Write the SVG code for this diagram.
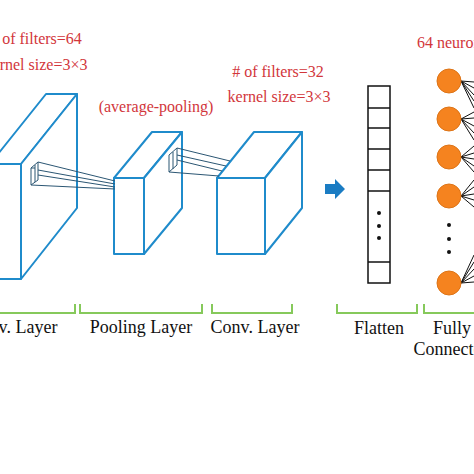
<svg xmlns="http://www.w3.org/2000/svg" width="474" height="474" viewBox="0 0 474 474">
<style>
.cube{fill:#fff;stroke:#1f8bcb;stroke-width:2;stroke-linejoin:round}
.kern{fill:none;stroke:#2b5673;stroke-width:1}
.red{font-family:"Liberation Serif",serif;font-size:16px;fill:#d2363b}
.lbl{font-family:"Liberation Serif",serif;font-size:18px;fill:#111}
.br{fill:none;stroke:#86c95b;stroke-width:2}
.cell{fill:#fff;stroke:#111;stroke-width:1.5}
.neu{fill:#f5831f;stroke:#dd7417;stroke-width:1}
.fan{stroke:#111;stroke-width:1}
.dot{fill:#111}
</style>
<rect width="474" height="474" fill="#fff"/>
<g id="texts">
<text class="red" x="36" y="44" text-anchor="middle"># of filters=64</text>
<text class="red" x="36" y="70" text-anchor="middle">kernel size=3×3</text>
<text class="red" x="156" y="112" text-anchor="middle">(average-pooling)</text>
<text class="red" x="278" y="77" text-anchor="middle"># of filters=32</text>
<text class="red" x="279" y="102" text-anchor="middle">kernel size=3×3</text>
<text class="red" x="417" y="48">64 neurons</text>
</g>
<g id="conv1">
<polygon class="cube" points="-10,164 46,94 77,94 21,164"/>
<polygon class="cube" points="21,164 77,94 77,208 21,279"/>
<rect class="cube" x="-10" y="164" width="31" height="115"/>
</g>
<g id="pool">
<polygon class="cube" points="114,178 152,132 182,132 144,178"/>
<polygon class="cube" points="144,178 182,132 182,208 144,254"/>
<rect class="cube" x="114" y="178" width="30" height="76"/>
</g>
<g id="conv2">
<polygon class="cube" points="217,178 254,132 302,132 265,178"/>
<polygon class="cube" points="265,178 302,132 302,208 265,254"/>
<rect class="cube" x="217" y="178" width="48" height="76"/>
</g>
<g id="connectors">
<polygon class="kern" points="31,168 38,162 38,180 31,185"/>
<line class="kern" x1="35" y1="165" x2="35" y2="182"/>
<line class="kern" x1="31" y1="168" x2="35" y2="168"/>
<line class="kern" x1="38" y1="162" x2="115" y2="181"/>
<line class="kern" x1="38" y1="170" x2="115" y2="184"/>
<line class="kern" x1="38" y1="175" x2="115" y2="187"/>
<line class="kern" x1="31" y1="185" x2="115" y2="189"/>
<polygon class="kern" points="169,155 177,148 177,165 169,172"/>
<line class="kern" x1="173" y1="152" x2="173" y2="169"/>
<line class="kern" x1="177" y1="148" x2="230" y2="161"/>
<line class="kern" x1="177" y1="155" x2="226" y2="166"/>
<line class="kern" x1="177" y1="160" x2="222" y2="171"/>
<line class="kern" x1="169" y1="172" x2="219" y2="176"/>
<polygon points="325,184 335,184 335,179 345,189 335,199 335,194 325,194" fill="#1a7cc3"/>
<g class="fan">
<line x1="461" y1="81" x2="474" y2="82"/><line x1="461" y1="81" x2="474" y2="88"/><line x1="461" y1="81" x2="474" y2="95"/><line x1="461" y1="81" x2="474" y2="101"/><line x1="461" y1="81" x2="474" y2="108"/>
<line x1="461" y1="119" x2="474" y2="112"/><line x1="461" y1="119" x2="474" y2="118"/><line x1="461" y1="119" x2="474" y2="126"/><line x1="461" y1="119" x2="474" y2="133"/><line x1="461" y1="119" x2="474" y2="140"/>
<line x1="461" y1="157" x2="474" y2="146"/><line x1="461" y1="157" x2="474" y2="153"/><line x1="461" y1="157" x2="474" y2="159"/><line x1="461" y1="157" x2="474" y2="166"/><line x1="461" y1="157" x2="474" y2="172"/>
<line x1="461" y1="196" x2="474" y2="180"/><line x1="461" y1="196" x2="474" y2="187"/><line x1="461" y1="196" x2="474" y2="194"/><line x1="461" y1="196" x2="474" y2="200"/><line x1="461" y1="196" x2="474" y2="207"/>
<line x1="461" y1="283" x2="474" y2="255"/><line x1="461" y1="283" x2="474" y2="262"/><line x1="461" y1="283" x2="474" y2="269"/><line x1="461" y1="283" x2="474" y2="276"/><line x1="461" y1="283" x2="474" y2="282"/>
</g>
</g>
<g id="flatten">
<rect class="cell" x="368" y="86" width="22" height="197"/>
<line class="cell" x1="368" y1="108" x2="390" y2="108"/>
<line class="cell" x1="368" y1="128" x2="390" y2="128"/>
<line class="cell" x1="368" y1="149" x2="390" y2="149"/>
<line class="cell" x1="368" y1="170" x2="390" y2="170"/>
<line class="cell" x1="368" y1="191" x2="390" y2="191"/>
<line class="cell" x1="368" y1="262" x2="390" y2="262"/>
<circle class="dot" cx="379" cy="213" r="2"/>
<circle class="dot" cx="379" cy="226" r="2"/>
<circle class="dot" cx="379" cy="238" r="2"/>
</g>
<g id="dense">
<circle class="neu" cx="449" cy="81" r="12"/>
<circle class="neu" cx="449" cy="119" r="12"/>
<circle class="neu" cx="449" cy="157" r="12"/>
<circle class="neu" cx="449" cy="196" r="12"/>
<circle class="neu" cx="449" cy="283" r="12"/>
<circle class="dot" cx="449" cy="225" r="2"/>
<circle class="dot" cx="449" cy="239" r="2"/>
<circle class="dot" cx="449" cy="252" r="2"/>
</g>
<g id="brackets">
<polyline class="br" points="-5,313 75,313 75,304"/>
<polyline class="br" points="80,304 80,313 202,313 202,304"/>
<polyline class="br" points="212,304 212,313 292,313 292,304"/>
<polyline class="br" points="337,304 337,313 417,313 417,304"/>
<polyline class="br" points="424,304 424,313 480,313"/>
</g>
<g id="labels">
<text class="lbl" x="13" y="333" text-anchor="middle">Conv. Layer</text>
<text class="lbl" x="141" y="333" text-anchor="middle">Pooling Layer</text>
<text class="lbl" x="255" y="333" text-anchor="middle">Conv. Layer</text>
<text class="lbl" x="379" y="334" text-anchor="middle">Flatten</text>
<text class="lbl" x="452" y="334" text-anchor="middle">Fully</text>
<text class="lbl" x="452" y="355" text-anchor="middle">Connected</text>
</g>
</svg>
